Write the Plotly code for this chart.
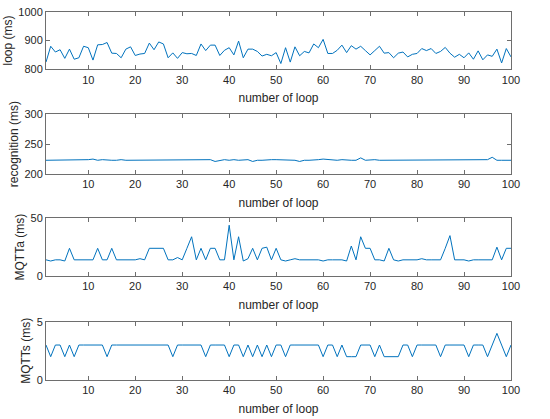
import plotly.graph_objects as go

loop_idx = list(range(1, 101))

loop_ms = [825, 880, 860, 868, 838, 870, 835, 840, 880, 875,
           832, 885, 886, 893, 856, 855, 840, 870, 878, 848,
           853, 855, 891, 868, 895, 888, 840, 857, 838, 858,
           854, 855, 848, 888, 865, 884, 884, 848, 866, 875,
           850, 898, 840, 870, 870, 862, 846, 852, 847, 858,
           820, 875, 825, 878, 847, 862, 857, 888, 875, 904,
           855, 855, 866, 884, 858, 882, 870, 880, 865, 850,
           865, 880, 856, 858, 840, 856, 860, 843, 852, 855,
           872, 865, 872, 855, 862, 876, 856, 842, 852, 840,
           857, 835, 864, 833, 850, 845, 870, 822, 872, 843]

recognition_ms = [223, 223, 224, 223, 223, 224, 223, 223, 223, 224,
                  225, 223, 224, 223, 223, 223, 224, 223, 223, 224,
                  223, 223, 224, 223, 224, 223, 223, 223, 223, 223,
                  224, 223, 223, 224, 223, 224, 221, 223, 224, 223,
                  224, 223, 223, 224, 221, 223, 223, 224, 224, 224,
                  224, 224, 224, 223, 221, 223, 223, 223, 224, 225,
                  224, 223, 223, 224, 223, 223, 223, 227, 223, 224,
                  224, 223, 223, 224, 223, 224, 223, 223, 224, 223,
                  223, 223, 224, 223, 223, 224, 223, 223, 224, 223,
                  223, 223, 224, 223, 224, 228, 223, 223, 223, 223]

mqtta_ms = [14, 13, 14, 14, 13, 24, 14, 14, 14, 14,
            14, 24, 14, 14, 24, 14, 14, 14, 14, 14,
            15, 14, 24, 24, 24, 24, 14, 14, 16, 14,
            24, 34, 14, 24, 14, 24, 24, 14, 14, 44,
            14, 34, 13, 15, 24, 14, 24, 25, 14, 24,
            14, 13, 14, 15, 14, 14, 14, 14, 14, 13,
            14, 14, 14, 14, 13, 26, 14, 34, 24, 24,
            14, 14, 13, 24, 14, 13, 14, 14, 14, 14,
            15, 14, 14, 14, 14, 24, 35, 14, 14, 14,
            13, 14, 14, 14, 14, 14, 25, 14, 24, 24]

mqtts_ms = [3, 2, 3, 3, 2, 3, 2, 3, 3, 3,
            3, 3, 3, 2, 3, 3, 3, 3, 3, 3,
            3, 3, 3, 3, 3, 3, 3, 2, 3, 3,
            3, 3, 3, 3, 2, 3, 3, 3, 3, 2,
            3, 3, 2, 3, 2, 3, 2, 3, 2, 3,
            3, 2, 3, 3, 3, 3, 3, 3, 3, 2,
            3, 3, 2, 3, 2, 2, 2, 3, 3, 3,
            2, 3, 2, 2, 2, 2, 3, 3, 2, 3,
            3, 3, 3, 3, 2, 3, 3, 3, 3, 3,
            2, 3, 3, 3, 2, 3, 4, 3, 2, 3]

y_titles = ["loop (ms)", "recognition (ms)", "MQTTa (ms)", "MQTTs (ms)"]
y_ranges = [[800, 1000], [200, 300], [0, 50], [0, 5]]
y_ticks = [[800, 900, 1000], [200, 250, 300], [0, 50], [0, 5]]
x_ticks = [10, 20, 30, 40, 50, 60, 70, 80, 90, 100]
series = [loop_ms, recognition_ms, mqtta_ms, mqtts_ms]

W, H = 550, 419
x0, x1 = 46, 511
rows_px = [(11.7, 69.3), (114.3, 174.0), (218.3, 276.0), (321.7, 380.0)]

fig = go.Figure()
line_col = "#0072BD"
axis_col = "#6e6e6e"
text_col = "#262626"
font_family = "Liberation Sans, Arial, sans-serif"

layout = dict(
    width=W, height=H,
    margin=dict(l=0, r=0, t=0, b=0),
    paper_bgcolor="white", plot_bgcolor="white",
    showlegend=False,
    font=dict(family=font_family, size=11, color=text_col),
)

for i, (vals, yt, yr, ytk) in enumerate(zip(series, y_titles, y_ranges, y_ticks)):
    n = "" if i == 0 else str(i + 1)
    top, bot = rows_px[i]
    fig.add_trace(go.Scatter(x=loop_idx, y=vals, mode="lines",
                             line=dict(color=line_col, width=1),
                             xaxis="x" + n, yaxis="y" + n))
    layout["xaxis" + n] = dict(
        domain=[x0 / W, x1 / W], anchor="y" + n, range=[1, 100],
        tickvals=x_ticks, ticks="inside", ticklen=4, tickcolor=axis_col,
        showline=True, linecolor=axis_col, linewidth=1, mirror="ticks",
        showgrid=False, zeroline=False, automargin=False,
        tickfont=dict(size=11, color=text_col),
        title=dict(text="number of loop", font=dict(size=12, color=text_col), standoff=9),
    )
    layout["yaxis" + n] = dict(
        domain=[1 - bot / H, 1 - top / H], anchor="x" + n, range=yr,
        tickvals=ytk, ticks="inside", ticklen=4, tickcolor=axis_col,
        showline=True, linecolor=axis_col, linewidth=1, mirror="ticks",
        showgrid=False, zeroline=False, automargin=False,
        tickfont=dict(size=11, color=text_col),
        title=dict(text=yt, font=dict(size=12, color=text_col), standoff=3),
    )

fig.update_layout(**layout)
fig.write_html("out.html",
               config={"displayModeBar": False},
               post_script="document.body.style.margin='0';document.body.style.padding='0';")
